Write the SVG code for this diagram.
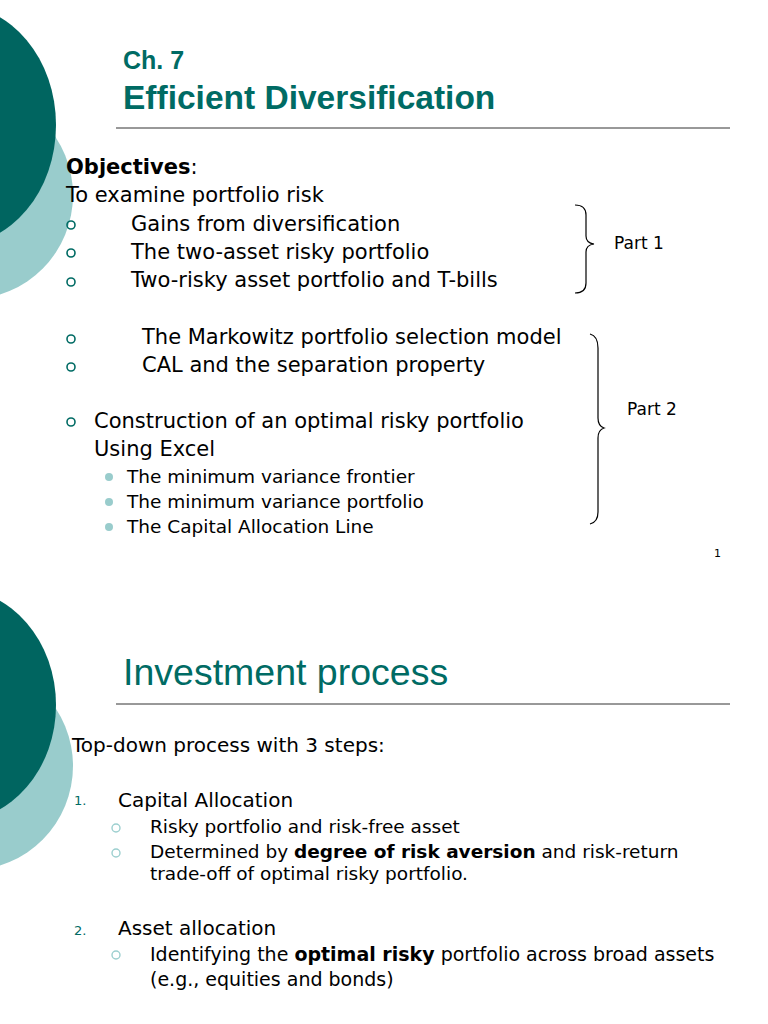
<svg xmlns="http://www.w3.org/2000/svg" width="768" height="1024" viewBox="0 0 768 1024">
<style>
.t{font-family:"DejaVu Sans",Verdana,sans-serif;fill:#000}
.h{font-family:"Liberation Sans",Arial,sans-serif;fill:#006b64}
.b{fill:none;stroke:#006b64;stroke-width:1.6}
.lb{fill:none;stroke:#9ccfcf;stroke-width:1.4}
.br{fill:none;stroke:#000;stroke-width:1.2}
</style>
<rect width="768" height="1024" fill="#fff"/>
<ellipse cx="-30" cy="195" rx="103" ry="104" fill="#99cccc"/>
<ellipse cx="-44" cy="125" rx="100" ry="120" fill="#006560"/>
<ellipse cx="-30" cy="766" rx="103" ry="104" fill="#99cccc"/>
<ellipse cx="-44" cy="705" rx="100" ry="116" fill="#006560"/>
<text class="h" x="123" y="69" font-size="25" font-weight="bold">Ch. 7</text>
<text class="h" x="123" y="109" font-size="33.5" font-weight="bold">Efficient Diversification</text>
<line x1="116" y1="128" x2="730" y2="128" stroke="#333" stroke-width="1"/>
<text class="t" x="66" y="174" font-size="21"><tspan font-weight="bold">Objectives</tspan>:</text>
<text class="t" x="66" y="202" font-size="21">To examine portfolio risk</text>
<g class="t" font-size="21">
<text x="131" y="231">Gains from diversification</text>
<text x="131" y="259">The two-asset risky portfolio</text>
<text x="131" y="287">Two-risky asset portfolio and T-bills</text>
<text x="142" y="344">The Markowitz portfolio selection model</text>
<text x="142" y="372">CAL and the separation property</text>
<text x="94" y="428">Construction of an optimal risky portfolio</text>
<text x="94" y="456">Using Excel</text>
</g>
<g class="b">
<circle cx="71" cy="225" r="4"/><circle cx="71" cy="253" r="4"/><circle cx="71" cy="282" r="4"/>
<circle cx="71" cy="339" r="4"/><circle cx="71" cy="367" r="4"/><circle cx="71" cy="422" r="4"/>
</g>
<g fill="#99cccc"><circle cx="109" cy="477" r="4"/><circle cx="109" cy="502" r="4"/><circle cx="109" cy="527" r="4"/></g>
<g class="t" font-size="18.5">
<text x="127" y="483">The minimum variance frontier</text>
<text x="127" y="508">The minimum variance portfolio</text>
<text x="127" y="533">The Capital Allocation Line</text>
</g>
<path class="br" d="M575,205 Q586,205 586,215 L586,236 Q586,243 594,244 Q586,245 586,252 L586,283 Q586,293 575,293"/>
<text class="t" x="614" y="249" font-size="17">Part 1</text>
<path class="br" d="M590,334 Q598,336 598,348 L598,418 Q598,426 604,428 Q598,430 598,438 L598,512 Q598,522 590,524"/>
<text class="t" x="627" y="415" font-size="17">Part 2</text>
<text class="t" x="714" y="557" font-size="11">1</text>
<text class="h" x="123" y="685" font-size="37.5">Investment process</text>
<line x1="116" y1="704" x2="730" y2="704" stroke="#333" stroke-width="1"/>
<text class="t" x="72" y="752" font-size="20">Top-down process with 3 steps:</text>
<text x="74" y="805" font-size="13" fill="#006b64" font-family="DejaVu Sans,sans-serif">1.</text>
<text class="t" x="118" y="807" font-size="20">Capital Allocation</text>
<g class="lb"><circle cx="116" cy="828" r="4"/><circle cx="116" cy="853" r="4"/><circle cx="116" cy="955" r="4"/></g>
<g class="t" font-size="18.5">
<text x="150" y="833">Risky portfolio and risk-free asset</text>
<text x="150" y="858">Determined by <tspan font-weight="bold">degree of risk aversion</tspan> and risk-return</text>
<text x="150" y="880">trade-off of optimal risky portfolio.</text>
<text x="150" y="961" font-size="19">Identifying the <tspan font-weight="bold">optimal risky</tspan> portfolio across broad assets</text>
<text x="150" y="986" font-size="19">(e.g., equities and bonds)</text>
</g>
<text x="74" y="935" font-size="13" fill="#006b64" font-family="DejaVu Sans,sans-serif">2.</text>
<text class="t" x="118" y="935" font-size="20">Asset allocation</text>
</svg>
